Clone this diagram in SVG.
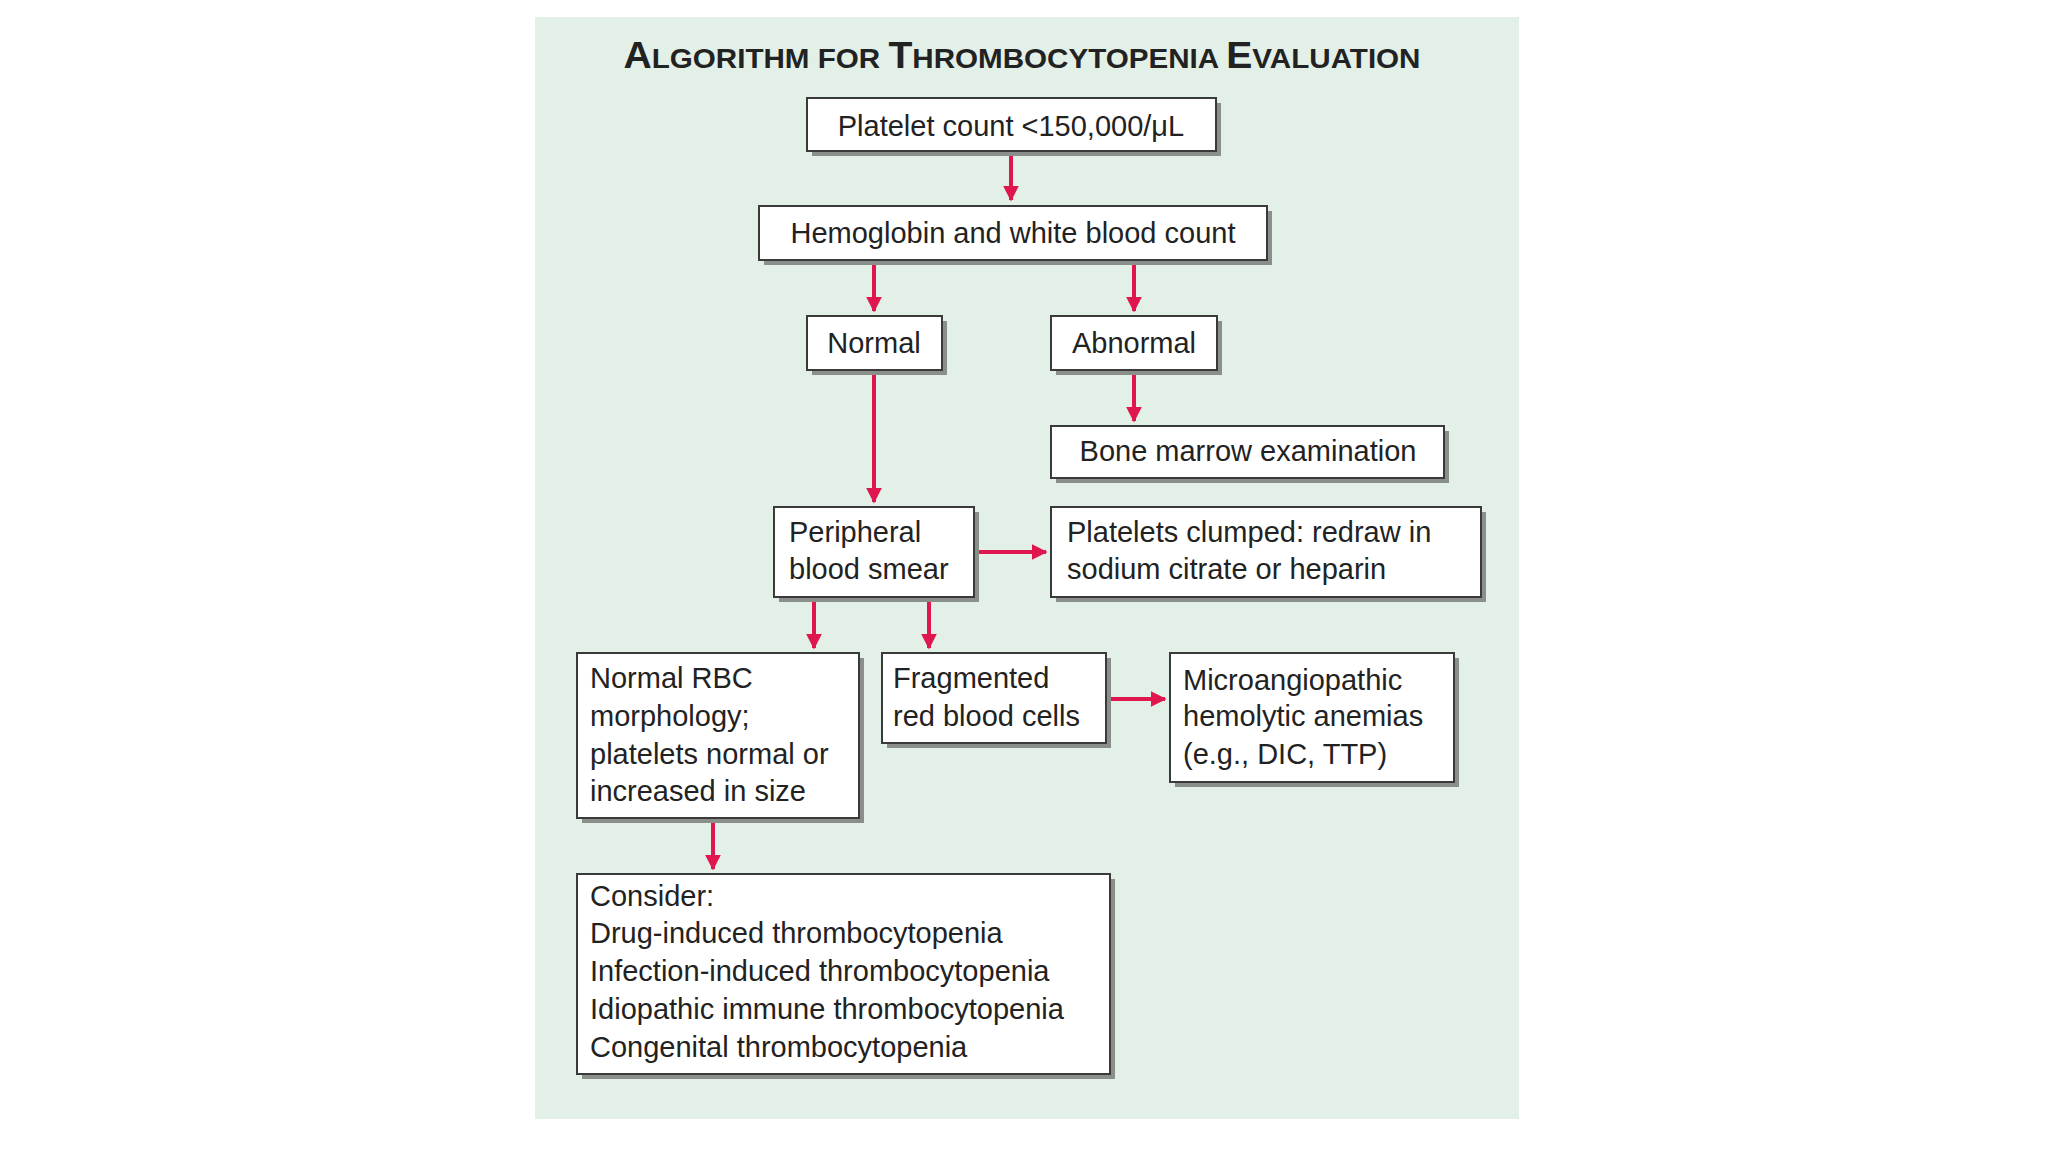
<svg xmlns="http://www.w3.org/2000/svg" width="2048" height="1152" viewBox="0 0 2048 1152">
<defs>
<style>
.bx{fill:#fff;stroke:#3a3a3a;stroke-width:2}
.sh{fill:#8a8f8c}
.t{font-family:"Liberation Sans",Arial,sans-serif;font-size:29px;fill:#222}
.ti{font-family:"Liberation Sans",Arial,sans-serif;font-weight:bold;fill:#222}
.c line{stroke:#e0174f;stroke-width:4}
</style>
<marker id="ah" viewBox="0 0 10 10" refX="9" refY="5" markerWidth="4" markerHeight="4" orient="auto" markerUnits="strokeWidth">
<path d="M0,0 L10,5 L0,10 z" fill="#e0174f"/>
</marker>
</defs>
<rect width="2048" height="1152" fill="#fff"/>
<rect x="535" y="17" width="984" height="1102" fill="#e3f0e8"/>
<text class="ti" x="1022" y="68" text-anchor="middle" textLength="797" lengthAdjust="spacingAndGlyphs"><tspan font-size="37">A</tspan><tspan font-size="28">LGORITHM FOR </tspan><tspan font-size="37">T</tspan><tspan font-size="28">HROMBOCYTOPENIA </tspan><tspan font-size="37">E</tspan><tspan font-size="28">VALUATION</tspan></text>

<g class="c">
<line x1="1011" y1="151" x2="1011" y2="200" marker-end="url(#ah)"/>
<line x1="874" y1="260" x2="874" y2="311" marker-end="url(#ah)"/>
<line x1="1134" y1="260" x2="1134" y2="311" marker-end="url(#ah)"/>
<line x1="1134" y1="370" x2="1134" y2="421" marker-end="url(#ah)"/>
<line x1="874" y1="370" x2="874" y2="502" marker-end="url(#ah)"/>
<line x1="974" y1="552" x2="1046" y2="552" marker-end="url(#ah)"/>
<line x1="814" y1="597" x2="814" y2="648" marker-end="url(#ah)"/>
<line x1="929" y1="597" x2="929" y2="648" marker-end="url(#ah)"/>
<line x1="1106" y1="699" x2="1165" y2="699" marker-end="url(#ah)"/>
<line x1="713" y1="818" x2="713" y2="869" marker-end="url(#ah)"/>
</g>

<g id="platelet"><rect class="sh" x="812" y="103" width="409" height="53"/><rect class="bx" x="807" y="98" width="409" height="53"/><text class="t" x="1011" y="136" text-anchor="middle">Platelet count &lt;150,000/μL</text></g>
<g id="hemoglobin"><rect class="sh" x="764" y="211" width="508" height="54"/><rect class="bx" x="759" y="206" width="508" height="54"/><text class="t" x="1013" y="243" text-anchor="middle">Hemoglobin and white blood count</text></g>
<g id="normal"><rect class="sh" x="812" y="321" width="135" height="54"/><rect class="bx" x="807" y="316" width="135" height="54"/><text class="t" x="874" y="353" text-anchor="middle">Normal</text></g>
<g id="abnormal"><rect class="sh" x="1056" y="321" width="166" height="54"/><rect class="bx" x="1051" y="316" width="166" height="54"/><text class="t" x="1134" y="353" text-anchor="middle">Abnormal</text></g>
<g id="bonemarrow"><rect class="sh" x="1056" y="431" width="393" height="52"/><rect class="bx" x="1051" y="426" width="393" height="52"/><text class="t" x="1248" y="461" text-anchor="middle">Bone marrow examination</text></g>
<g id="smear"><rect class="sh" x="779" y="512" width="200" height="90"/><rect class="bx" x="774" y="507" width="200" height="90"/><text class="t" x="789" y="542">Peripheral</text><text class="t" x="789" y="579">blood smear</text></g>
<g id="clumped"><rect class="sh" x="1056" y="512" width="430" height="90"/><rect class="bx" x="1051" y="507" width="430" height="90"/><text class="t" x="1067" y="542">Platelets clumped: redraw in</text><text class="t" x="1067" y="579">sodium citrate or heparin</text></g>
<g id="normalrbc"><rect class="sh" x="582" y="658" width="282" height="165"/><rect class="bx" x="577" y="653" width="282" height="165"/><text class="t" x="590" y="688">Normal RBC</text><text class="t" x="590" y="726">morphology;</text><text class="t" x="590" y="764">platelets normal or</text><text class="t" x="590" y="801">increased in size</text></g>
<g id="fragmented"><rect class="sh" x="887" y="658" width="224" height="90"/><rect class="bx" x="882" y="653" width="224" height="90"/><text class="t" x="893" y="688">Fragmented</text><text class="t" x="893" y="726">red blood cells</text></g>
<g id="micro"><rect class="sh" x="1175" y="658" width="284" height="129"/><rect class="bx" x="1170" y="653" width="284" height="129"/><text class="t" x="1183" y="690">Microangiopathic</text><text class="t" x="1183" y="726">hemolytic anemias</text><text class="t" x="1183" y="764">(e.g., DIC, TTP)</text></g>
<g id="consider"><rect class="sh" x="582" y="879" width="533" height="200"/><rect class="bx" x="577" y="874" width="533" height="200"/><text class="t" x="590" y="906">Consider:</text><text class="t" x="590" y="943">Drug-induced thrombocytopenia</text><text class="t" x="590" y="981">Infection-induced thrombocytopenia</text><text class="t" x="590" y="1019">Idiopathic immune thrombocytopenia</text><text class="t" x="590" y="1057">Congenital thrombocytopenia</text></g>
</svg>
